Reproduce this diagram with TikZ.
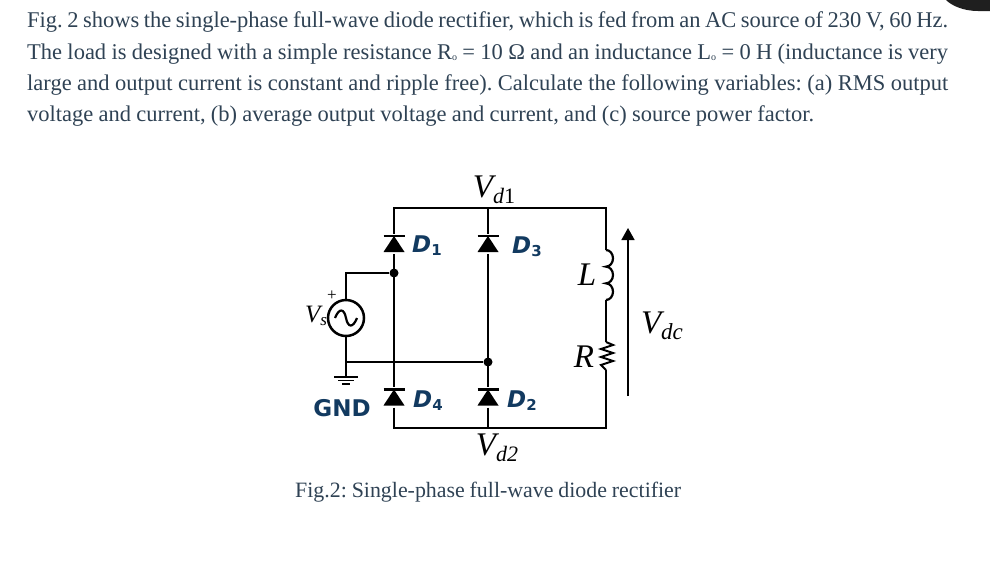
\documentclass[tikz,border=0pt]{standalone}
\usepackage{fontspec}
\setmainfont{Liberation Serif}
\newfontfamily\labelfont{DejaVu Sans}
\usetikzlibrary{arrows.meta}

\definecolor{textcol}{HTML}{2F4254}
\definecolor{labelcol}{HTML}{123A60}
\newcommand{\fsize}[1]{\fontsize{#1}{#1}\selectfont}
\newcommand{\smallo}{\raisebox{-1pt}{\fsize{10}o}}
\newcommand{\lowtext}[2]{\raisebox{-#1}{#2}}

\tikzset{
    wire/.style={line width=2.5pt},
    para/.style={anchor=base west, inner sep=0, text=textcol, font=\fsize{22.5}\frenchspacing},
    volt/.style={inner sep=0, font=\fsize{33}\itshape},
    devlabel/.style={inner sep=0, text=labelcol, font=\labelfont\fsize{23}\bfseries\itshape},
    junction/.style={circle, fill=black, inner sep=0, minimum size=9pt},
    diode/.style={inner sep=0, minimum width=22pt, minimum height=20pt, path picture={
        \fill (-10.5pt,-8pt) -- (10.5pt,-8pt) -- (0,8pt) -- cycle;
        \draw[line width=2.2pt] (-10.5pt,8pt) -- (10.5pt,8pt);
    }},
    source/.style={circle, draw, line width=2.5pt, inner sep=0, minimum size=36pt, path picture={
        \draw[line width=2.2pt] (-11pt,0) .. controls (-7pt,10pt) and (-2pt,10pt) .. (0,0)
            .. controls (2pt,-10pt) and (7pt,-10pt) .. (11pt,0);
    }}
}

\begin{document}
\begin{tikzpicture}[x=1pt, y=-1pt]
    \useasboundingbox (0,0) rectangle (990,566);
    % corner of the screen
    \fill[black!88] (946,0) .. controls (952,6) and (964,11) .. (978,11) -- (990,11) -- (990,0) -- cycle;

    % question text
    \node[para] (line1) at (27,27.5) {\makebox[921pt][s]{Fig. 2 shows the single-phase full-wave diode rectifier, which is fed from an AC source of 230 V, 60 Hz.}};
    \node[para] (line2) at (27,59) {\makebox[921pt][s]{The load is designed with a simple resistance R\smallo{} = 10 Ω and an inductance L\smallo{} = 0 H (inductance is very}};
    \node[para] (line3) at (27,90) {\makebox[921pt][s]{large and output current is constant and ripple free). Calculate the following variables: (a) RMS output}};
    \node[para] (line4) at (27,121.5) {\makebox[787pt][s]{voltage and current, (b) average output voltage and current, and (c) source power factor.}};
    \node[para, font=\fsize{21.9}\frenchspacing] (caption) at (295,497) {\makebox[386pt][s]{Fig.2: Single-phase full-wave diode rectifier}};

    % bridge corners
    \coordinate (tl) at (394,208);
    \coordinate (tm) at (488,208);
    \coordinate (tr) at (606,208);
    \coordinate (bl) at (394,428);
    \coordinate (bm) at (488,428);
    \coordinate (br) at (606,428);

    \node[diode] (d1) at (394,244) {};
    \node[diode] (d3) at (488,244) {};
    \node[diode] (d4) at (394,397.5) {};
    \node[diode] (d2) at (488,397.5) {};

    \node[junction] (acp) at (394,273) {};
    \node[junction] (acn) at (488,362) {};
    \node[source] (vs) at (346,318) {};
    \coordinate (srctop) at (346,273);
    \coordinate (srcbot) at (346,362);
    \coordinate (gnd) at (346,377);
    \coordinate (ltop) at (606,250);
    \coordinate (lbot) at (606,300);
    \coordinate (rtop) at (606,342);
    \coordinate (rbot) at (606,370);

    % wires
    \draw[wire] (d1.north) -- (tl) -- (tr) -- (ltop);
    \draw[wire] (tm) -- (d3.north);
    \draw[wire] (d1.south) -- (d4.north);
    \draw[wire] (d3.south) -- (d2.north);
    \draw[wire] (d4.south) -- (bl) -- (br) -- (rbot);
    \draw[wire] (d2.south) -- (bm);
    \draw[wire] (lbot) -- (rtop);
    \draw[wire, line width=2pt] (acp) -- (srctop) -- (vs.north);
    \draw[wire] (vs.south) -- (srcbot) -- (gnd);
    \draw[wire, line width=2pt] (srcbot) -- (acn);

    % ground
    \foreach \w/\y in {12/377, 8/380.5, 4/384}
        \draw[wire, line width=1.8pt] (346-\w,\y) -- (346+\w,\y);

    % inductor
    \draw[wire, line width=2.2pt] (ltop) arc[start angle=90, end angle=-90, x radius=7pt, y radius=8.33pt]
        arc[start angle=90, end angle=-90, x radius=7pt, y radius=8.33pt]
        arc[start angle=90, end angle=-90, x radius=7pt, y radius=8.33pt];

    % resistor
    \draw[wire, line width=2pt] (rtop) -- (613,345) -- (601,349) -- (613,353) -- (601,357) -- (613,361) -- (601,365) -- (rbot);

    % output voltage arrow
    \coordinate (arrlow) at (628,396);
    \coordinate (arrhigh) at (628,228);
    \draw[line width=1.7pt, -{Triangle[length=12pt, width=13pt]}] (arrlow) -- (arrhigh);

    % labels
    \node[devlabel] (d1lab) at (427,246) {D\lowtext{3pt}{\upshape\fsize{15}1}};
    \node[devlabel] (d3lab) at (527,247) {D\lowtext{3pt}{\upshape\fsize{15}3}};
    \node[devlabel] (d4lab) at (428,401) {D\lowtext{3pt}{\upshape\fsize{15}4}};
    \node[devlabel] (d2lab) at (522,401) {D\lowtext{3pt}{\upshape\fsize{15}2}};
    \node[inner sep=0, text=labelcol, font=\labelfont\fsize{23}\bfseries] (gndlab) at (342,408) {GND};
    \node[inner sep=0, font=\fsize{17}] (plus) at (332,296) {+};
    \node[volt, font=\fsize{25}\itshape] (vslab) at (316,316) {V\lowtext{3pt}{\fsize{17}s}};
    \node[volt] (vd1) at (494,190) {V\lowtext{6pt}{\fsize{22}d\upshape 1}};
    \node[volt] (vd2) at (497,448) {V\lowtext{6pt}{\fsize{22}d2}};
    \node[volt] (vdc) at (662,326) {V\lowtext{6pt}{\fsize{23}dc}};
    \node[volt] (llab) at (587,275) {L};
    \node[volt] (rlab) at (584,357) {R};
\end{tikzpicture}
\end{document}
